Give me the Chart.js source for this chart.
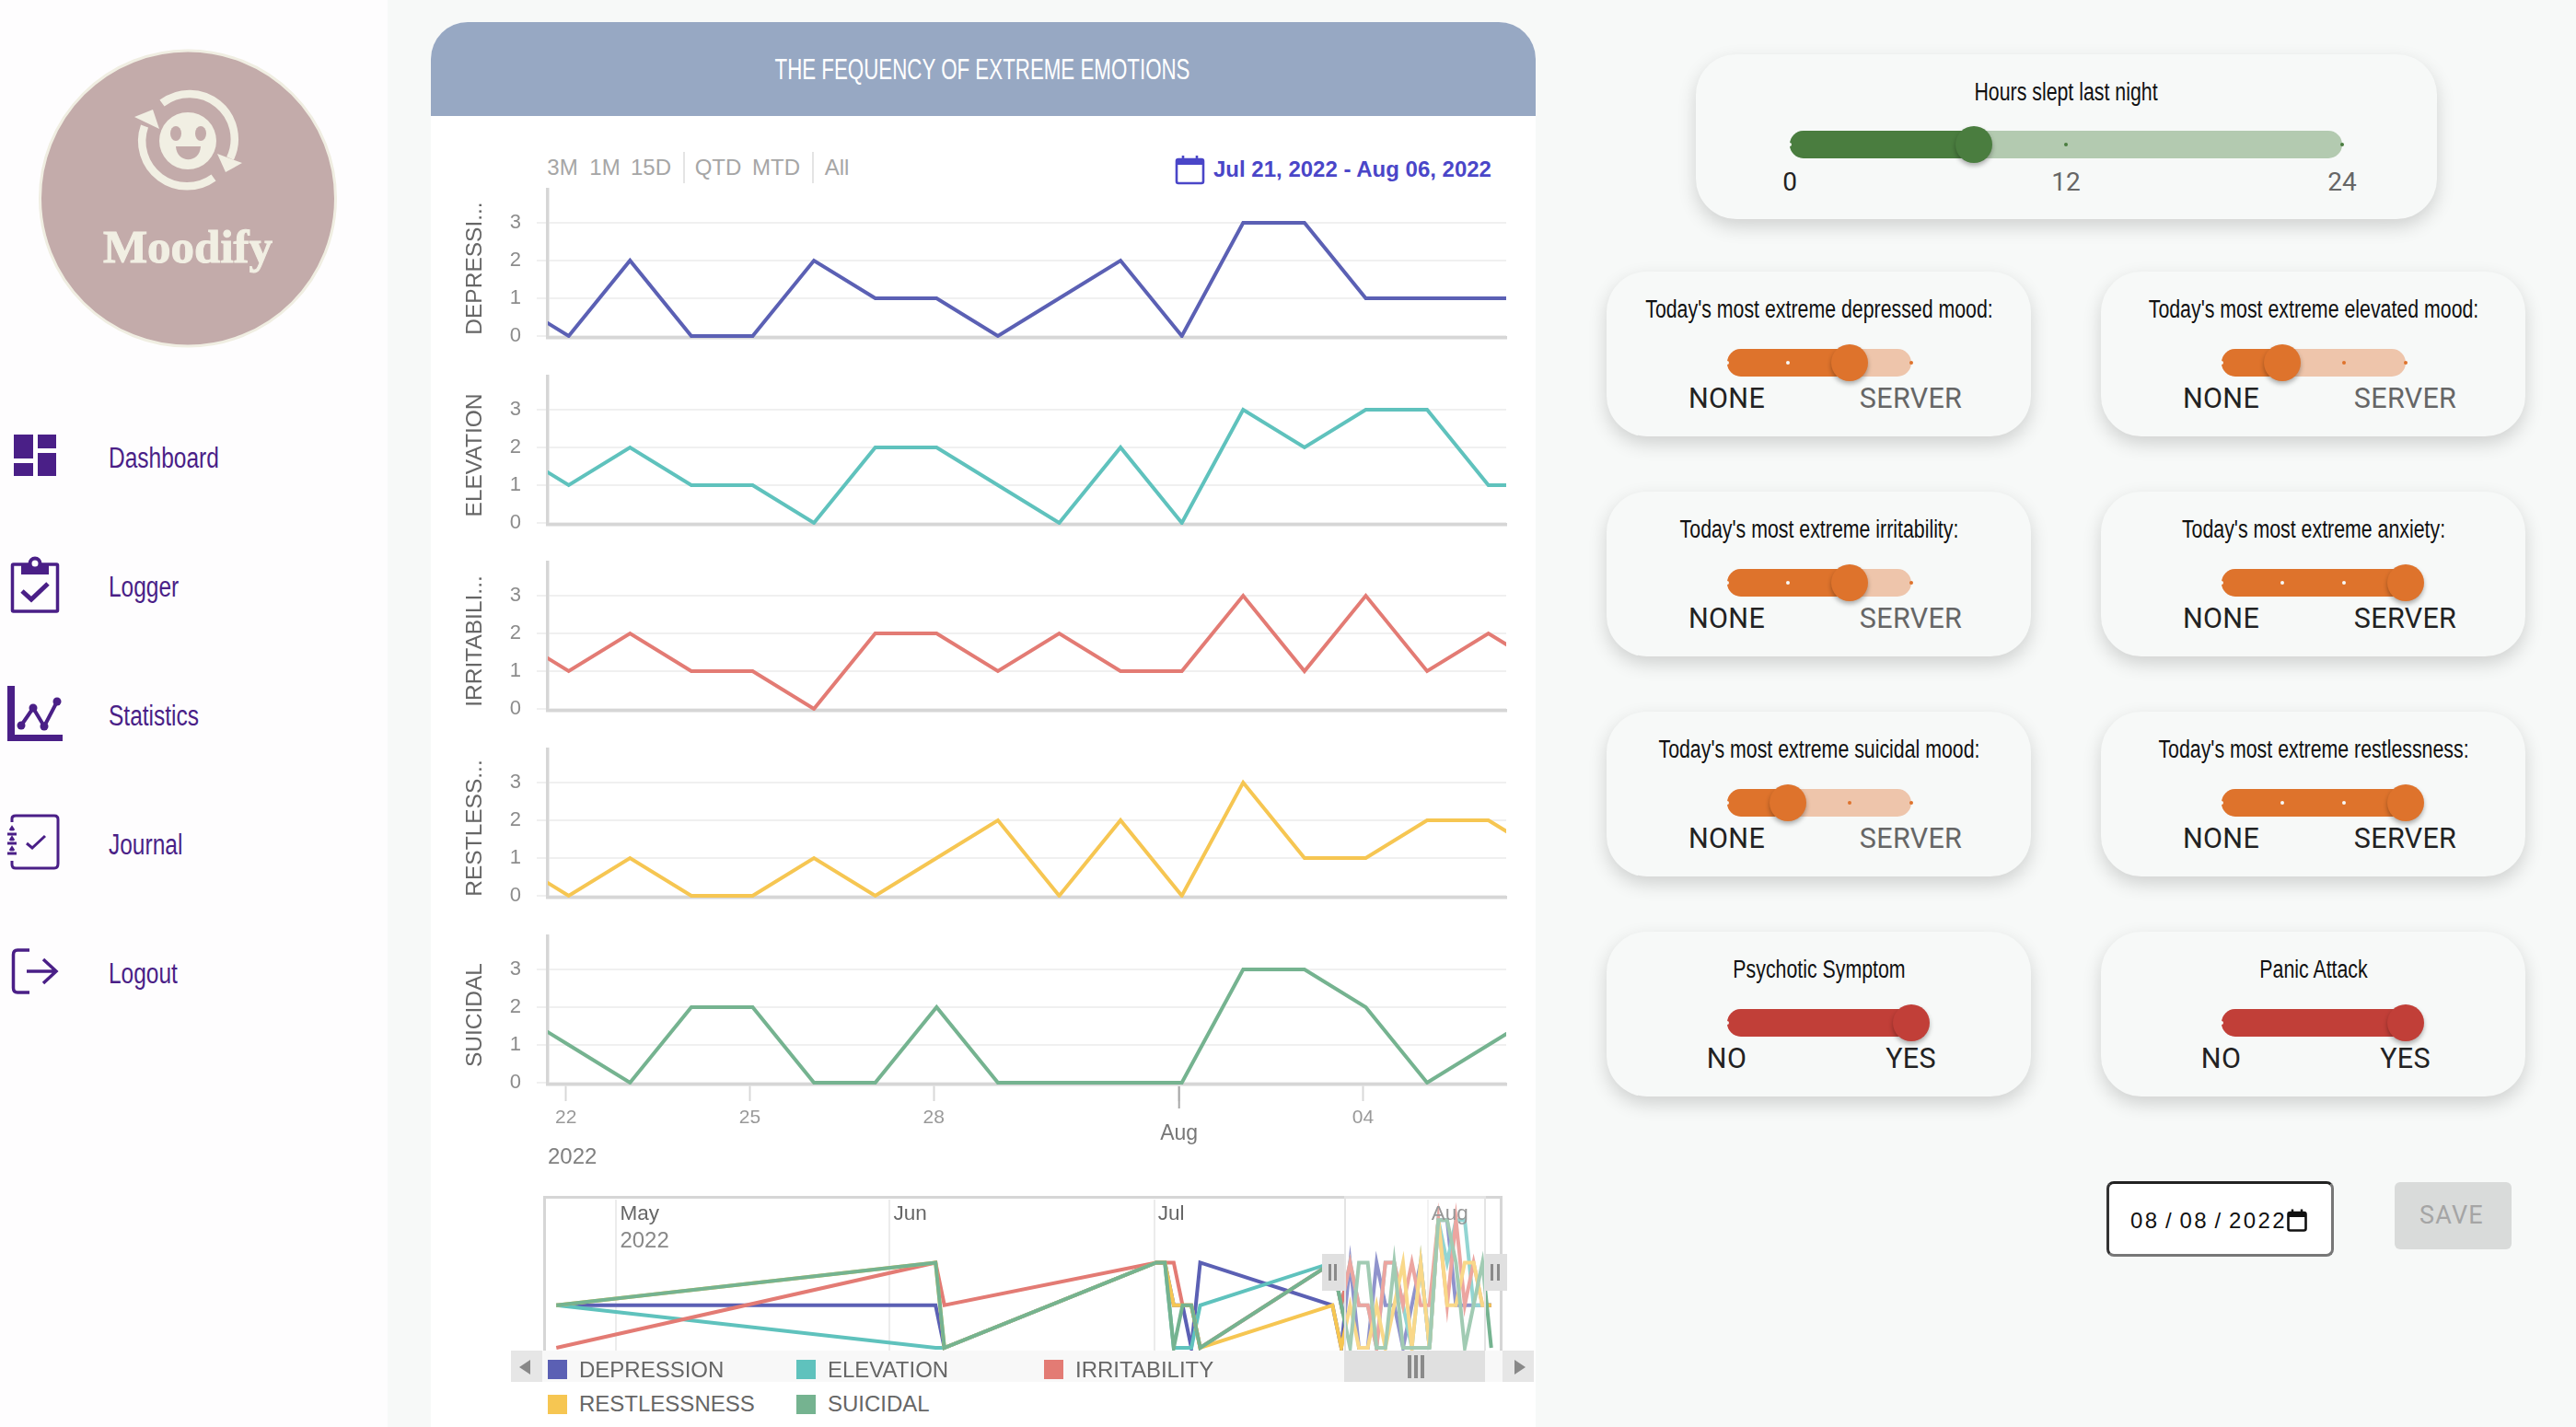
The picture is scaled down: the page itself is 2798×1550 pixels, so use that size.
<!DOCTYPE html>
<html><head><meta charset="utf-8">
<script src="https://cdn.jsdelivr.net/npm/chart.js@4"></script>
<style>
html,body{margin:0;padding:0;width:2798px;height:1550px;overflow:hidden;background:#f7f9f8;font-family:"Liberation Sans",sans-serif}
.a{position:absolute}
.t{position:absolute;white-space:nowrap;transform:translate(-50%,-50%)}
.nar{transform:translate(-50%,-50%) scaleX(.79)}
.card{position:absolute;background:#f7f9f8;border-radius:44px;box-shadow:0 8px 20px rgba(0,0,0,.16)}
.menu{position:absolute;left:118px;color:#4a1f87;font-size:31px;transform:translateY(-50%) scaleX(.79);transform-origin:left center;white-space:nowrap}
canvas{position:absolute;display:block}
</style></head><body>
<div class="a" style="left:0;top:0;width:421px;height:1550px;background:#fefdfe"></div>
<svg class="a" style="left:0;top:0" width="421" height="1550" viewBox="0 0 421 1550">
<circle cx="204" cy="215.5" r="160.5" fill="#c3abaa" stroke="#f0eee2" stroke-width="3"/>
<g fill="none" stroke="#f1efe3" stroke-width="8.5">
<path d="M176 112 A49 49 0 0 1 250 172"/><path d="M232 193 A49 49 0 0 1 157 137"/></g>
<g fill="#f1efe3"><path d="M263 177L245 187L236 167Z"/><path d="M146 127L166 119L173 140Z"/><circle cx="204" cy="153" r="31"/></g>
<g fill="#c3abaa"><ellipse cx="191" cy="145" rx="6" ry="8"/><ellipse cx="218" cy="145" rx="6" ry="8"/><path d="M191 159H218C217 178 192 178 191 159Z"/></g>
<text x="204" y="285" text-anchor="middle" font-family="Liberation Serif" font-weight="700" font-size="51" fill="#f1efe3" stroke="#f1efe3" stroke-width="1">Moodify</text>
<g fill="#4a1f87"><rect x="15" y="472" width="21" height="26"/><rect x="15" y="503" width="21" height="14"/><rect x="41" y="472" width="20" height="15"/><rect x="41" y="492" width="20" height="25"/></g>
<g fill="none" stroke="#4a1f87" stroke-width="3.5"><rect x="13.5" y="613" width="49" height="51" rx="1"/></g>
<path d="M23 614H53V624H23Z" fill="#4a1f87"/><circle cx="38" cy="612" r="5.5" fill="#fefdfe" stroke="#4a1f87" stroke-width="4"/>
<path d="M24 642L34 651L52 634" fill="none" stroke="#4a1f87" stroke-width="5"/>
<g fill="#4a1f87"><rect x="8" y="745" width="8" height="60"/><rect x="8" y="798" width="60" height="7"/><circle cx="23" cy="788" r="4.5"/><circle cx="36" cy="769" r="4.5"/><circle cx="48" cy="789" r="4.5"/><circle cx="62" cy="762" r="4.5"/></g>
<path d="M23 788L36 769L48 789L62 762" fill="none" stroke="#4a1f87" stroke-width="4"/>
<path d="M13 893V889Q13 886 17 886H59Q63 886 63 890V938Q63 943 59 943H17Q13 943 13 939V935" fill="none" stroke="#4a1f87" stroke-width="3"/>
<path d="M8 906H18M8 916H18M8 927H18M11 902L13 899L15 902M11 913L13 910L15 913M11 924L13 921L15 924" fill="none" stroke="#4a1f87" stroke-width="3"/>
<path d="M29 916L35 921L49 908" fill="none" stroke="#4a1f87" stroke-width="3"/>
<path d="M32 1032H19Q14.5 1032 14.5 1037V1073Q14.5 1078 19 1078H32" fill="none" stroke="#4a1f87" stroke-width="3.5"/>
<path d="M29 1055H61M47 1042L61 1055L47 1068" fill="none" stroke="#4a1f87" stroke-width="3.5"/>
</svg>
<div class="menu" style="top:498px">Dashboard</div>
<div class="menu" style="top:638px">Logger</div>
<div class="menu" style="top:778px">Statistics</div>
<div class="menu" style="top:918px">Journal</div>
<div class="menu" style="top:1058px">Logout</div>

<div class="a" style="left:468px;top:24px;width:1200px;height:1526px;background:#fff;border-radius:40px 40px 0 0;overflow:hidden">
<div class="a" style="left:0;top:0;width:1200px;height:102px;background:#97a8c3"></div></div>
<div class="t" style="left:1067px;top:76px;color:#fff;font-size:31px;transform:translate(-50%,-50%) scaleX(.72)" id="ttl">THE FEQUENCY OF EXTREME EMOTIONS</div>
<div id="rng"></div>
<svg class="a" style="left:1276px;top:168px" width="33" height="33" viewBox="0 0 33 33"><rect x="2" y="5" width="29" height="26" rx="2" fill="none" stroke="#4a46c8" stroke-width="2.6"/><path d="M2 5H31V11H2Z" fill="#4a46c8"/><path d="M9 1V8M24 1V8" stroke="#4a46c8" stroke-width="2.6"/></svg>
<div class="t" style="left:1469px;top:184px;font-weight:700;font-size:24px;color:#4a46c8">Jul 21, 2022 - Aug 06, 2022</div>
<div id="charts"></div>
<div id="right"></div>
<script>
// ---- data (Jul 21 … Aug 7, one value per day) ----
const dayNumbers = [21,22,23,24,25,26,27,28,29,30,31,32,33,34,35,36,37,38];
const depression   = [1,0,2,0,0,2,1,1,0,1,2,0,3,3,1,1,1,1];
const elevation    = [2,1,2,1,1,0,2,2,1,0,2,0,3,2,3,3,1,1];
const irritability = [2,1,2,1,1,0,2,2,1,2,1,1,3,1,3,1,2,1];
const restlessness = [1,0,1,0,0,1,0,1,2,0,2,0,3,1,1,2,2,1];
const suicidal     = [2,1,0,2,2,0,0,2,0,0,0,0,3,3,2,0,1,2];
const seriesNames  = ['DEPRESSION','ELEVATION','IRRITABILITY','RESTLESSNESS','SUICIDAL'];
const axisTitles   = ['DEPRESSI...','ELEVATION','IRRITABILI...','RESTLESS...','SUICIDAL'];
const seriesColors = ['#5b60b4','#5fc2bd','#e37b74','#f6c652','#75b390'];
const yTickValues  = [0,1,2,3];
const xTickDays    = [22,25,28,32,35];
const xTickLabels  = ['22','25','28','Aug','04'];
// ---- navigator: days counted from May 1 ----
const navEarlyDays = [-7,36,37,61,62,63,64,65,66];
const navDepression   = [1,1,0,2,2,1,1,0,2];
const navElevation    = [1,0,0,2,2,0,0,0,1];
const navIrritability = [0,2,1,2,2,2,1,1,0];
const navRestlessness = [1,2,0,2,2,1,1,1,0];
const navSuicidal     = [1,2,0,2,2,0,1,1,0];
const navLastDay = 99;
const navLastValues = [1,1,1,1,0];
const navMonthDays = [0,31,61,92];
const navMonthLabels = ['May','Jun','Jul','Aug'];
const navYearLabel = '2022';
// ---- logger sliders ----
const stepCards = ["Today's most extreme depressed mood:","Today's most extreme elevated mood:","Today's most extreme irritability:","Today's most extreme anxiety:","Today's most extreme suicidal mood:","Today's most extreme restlessness:"];
const stepValues = [2,1,2,3,1,3];
const yesNoCards = ['Psychotic Symptom','Panic Attack'];
const hoursSlept = 8;

const mainSeries=[depression,elevation,irritability,restlessness,suicidal];
const navSeries=[navDepression,navElevation,navIrritability,navRestlessness,navSuicidal];
const FONT='"Liberation Sans"';
const holder=document.getElementById('charts');
function mk(x,y,w,h){const c=document.createElement('canvas');c.width=w;c.height=h;c.style.left=x+'px';c.style.top=y+'px';c.style.width=w+'px';c.style.height=h+'px';holder.appendChild(c);return c;}
const TICK_SHIFT=0.045;
const zeroRows=[365.4,567.6,770.2,972.8,1175.6];
zeroRows.forEach((y0,i)=>{
  const last=i===4, top=y0-159, pad=16, plotH=161, xH=last?100:16;
  const c=mk(470,Math.round(top-pad),1190,pad+plotH+xH);
  const extras={id:'extras',afterDraw(ch){const g=ch.ctx;g.save();
    g.translate(46.7,(ch.chartArea.top+ch.chartArea.bottom)/2+5);g.rotate(-Math.PI/2);
    g.font='24.5px '+FONT;g.fillStyle='#666';g.textAlign='center';g.textBaseline='middle';g.fillText(axisTitles[i],0,0);g.restore();
    if(last){const p=ch.scales.x.getPixelForValue(32-TICK_SHIFT);g.save();g.strokeStyle='#a8a8a8';g.lineWidth=2;g.beginPath();g.moveTo(p,ch.chartArea.bottom+2);g.lineTo(p,ch.chartArea.bottom+26);g.stroke();g.restore();}}};
  new Chart(c,{type:'line',
    data:{datasets:[{data:dayNumbers.map((d,k)=>({x:d,y:mainSeries[i][k]})),borderColor:seriesColors[i],borderWidth:4,pointRadius:0,tension:0,fill:false,clip:0,borderJoinStyle:'miter'}]},
    plugins:[extras],
    options:{responsive:false,animation:false,devicePixelRatio:1,parsing:false,
      layout:{padding:{top:pad,right:24,left:0,bottom:0}},
      plugins:{legend:{display:false},tooltip:{enabled:false}},
      scales:{
        x:{type:'linear',min:21.659,max:37.29,
          afterBuildTicks:s=>{s.ticks=xTickDays.map(v=>({value:v-TICK_SHIFT}))},
          afterFit:s=>{s.height=xH;s.paddingLeft=0;s.paddingRight=0;},
          border:{display:true,color:'#d6d6d6',width:3.5},
          grid:{display:last,drawOnChartArea:false,drawTicks:last,tickLength:18,tickWidth:2,tickColor:'#d8d8d8'},
          ticks:{display:last,autoSkip:false,maxRotation:0,padding:6,color:c=>xTickLabels[c.index]==='Aug'?'#777':'#999',
            font:c=>xTickLabels[c.index]==='Aug'?{family:FONT,size:23,lineHeight:.85}:{family:FONT,size:21},
            callback:(v,k)=>xTickLabels[k]==='Aug'?['','Aug']:xTickLabels[k]},
          title:{display:last,text:navYearLabel,align:'start',color:'#808080',font:{family:FONT,size:24},padding:{top:0,bottom:6}}},
        y:{min:-0.05,max:3.88,
          afterBuildTicks:s=>{s.ticks=yTickValues.map(v=>({value:v}))},
          afterFit:s=>{s.width=125;s.paddingTop=0;s.paddingBottom=0;},
          border:{display:true,color:'#d6d6d6',width:3.5},
          grid:{color:'#f0f0f0',lineWidth:2,tickLength:12,tickColor:'#f0f0f0',drawTicks:true},
          ticks:{color:'#8c8c8c',padding:17,font:{family:FONT,size:22}}}
      }}});
});

// navigator
const navDays=navEarlyDays.concat(dayNumbers.map(d=>d+60),[navLastDay]);
const NAV_SHIFT=0.2;
const navDs=navSeries.map((arr,i)=>({data:navDays.map((d,k)=>({x:d,y:arr.concat(mainSeries[i],[navLastValues[i]])[k]})),borderColor:seriesColors[i],borderWidth:4,pointRadius:0,tension:0,order:4-i,clip:0}));
const navLabels={id:'navLabels',afterDraw(ch){const s=ch.scales.x,g=ch.ctx;g.save();g.textBaseline='middle';g.textAlign='left';
  navMonthDays.forEach((d,i)=>{const p=s.getPixelForValue(d-NAV_SHIFT);g.font='22.5px '+FONT;g.fillStyle='#666';g.fillText(navMonthLabels[i],p+4,16);
    if(i===0){g.font='24px '+FONT;g.fillStyle='#888';g.fillText(navYearLabel,p+4,45);}});g.restore();}};
new Chart(mk(592,1303,1038,164),{type:'line',data:{datasets:navDs},plugins:[navLabels],
  options:{responsive:false,animation:false,devicePixelRatio:1,parsing:false,layout:{padding:0},
    plugins:{legend:{display:false},tooltip:{enabled:false}},
    scales:{x:{type:'linear',min:-8.28,max:100.07,
        afterBuildTicks:s=>{s.ticks=navMonthDays.map(v=>({value:v-NAV_SHIFT}))},
        afterFit:s=>{s.height=0},
        border:{display:false},grid:{color:'#ececec',lineWidth:2,drawTicks:false},ticks:{display:false}},
      y:{display:false,min:-0.065,max:3.48}}}});

// chrome around the charts
function el(parent,css,html,cls){const d=document.createElement('div');d.className=cls||'a';d.style.cssText=css;if(html!=null)d.innerHTML=html;parent.appendChild(d);return d;}
const rng=document.getElementById('rng');
[['3M',611],['1M',657],['15D',707],['QTD',780],['MTD',843],['All',909]].forEach(r=>el(rng,`left:${r[1]}px;top:182px;font-size:24px;color:#a6a6a6`,r[0],'t'));
[742,882].forEach(x=>el(rng,`left:${x}px;top:165px;width:2px;height:34px;background:#e4e4e4`));
// frame
el(holder,'left:590px;top:1299px;width:1036px;height:168px;border:3px solid #d6d6d6;border-bottom:none;pointer-events:none');
// selection + handles
el(holder,'left:1460px;top:1299px;width:150px;height:168px;background:rgba(255,255,255,.32);border:2.5px solid #e4e4e4;border-bottom:none');
[[1436,1443,1449],[1613,1619,1626]].forEach(h=>{el(holder,`left:${h[0]}px;top:1362px;width:24px;height:40px;background:#e0e0e0`);
  h.slice(1).forEach(x=>el(holder,`left:${x}px;top:1373px;width:3px;height:18px;background:#8a8a8a`));});
// scrollbar
el(holder,'left:555px;top:1467px;width:1111px;height:34px;background:#f8f8f8');
el(holder,'left:555px;top:1467px;width:34px;height:34px;background:#e6e6e6');
el(holder,'left:1632px;top:1467px;width:34px;height:34px;background:#e6e6e6');
el(holder,'left:1460px;top:1467px;width:153px;height:34px;background:#e0e0e0');
[1529,1536,1543].forEach(x=>el(holder,`left:${x}px;top:1472px;width:4px;height:25px;background:#8a8a8a`));
el(holder,'left:564px;top:1477px;width:0;height:0;border-top:8px solid transparent;border-bottom:8px solid transparent;border-right:12px solid #888');
el(holder,'left:1645px;top:1477px;width:0;height:0;border-top:8px solid transparent;border-bottom:8px solid transparent;border-left:12px solid #888');
// legend
const legendPos=[[595,1487.5],[865,1487.5],[1134,1487.5],[595,1525],[865,1525]];
seriesNames.forEach((n,i)=>{const [x,y]=legendPos[i];
  el(holder,`left:${x}px;top:${y-10.5}px;width:21px;height:21px;background:${seriesColors[i]}`);
  el(holder,`left:${x+34}px;top:${y}px;transform:translateY(-50%);font-size:24px;color:#666;white-space:nowrap`,n);});

// right-hand panel
const R=document.getElementById('right');
function slider(cx,y,w,frac,col,light,marks){
  const left=cx-w/2;
  el(R,`left:${left}px;top:${y}px;width:${w}px;height:30px;border-radius:15px;background:${light}`);
  el(R,`left:${left}px;top:${y}px;width:${w*frac}px;height:30px;border-radius:15px 0 0 15px;background:${col}`);
  marks.forEach(m=>el(R,`left:${left+w*m-2}px;top:${y+13}px;width:4px;height:4px;border-radius:50%;background:${m<=frac?'#f7f9f8':col}`));
  el(R,`left:${left+w*frac-20}px;top:${y-5}px;width:40px;height:40px;border-radius:50%;background:${col};box-shadow:0 3px 5px rgba(0,0,0,.3)`);
}
function label(x,y,txt,active){el(R,`left:${x}px;top:${y}px;font-family:Roboto;font-size:30.5px;letter-spacing:.3px;color:${active?'#222':'#666'}`,txt,'t');}
// hours
el(R,'left:1842px;top:59px;width:805px;height:179px','','card');
el(R,'left:2244px;top:100px;font-size:27px;color:#111','Hours slept last night','t nar');
slider(2244,142,600,hoursSlept/24,'#4a7d3f','#b3cab0',[0,.5,1]);
el(R,'left:1944px;top:197px;font-family:Roboto;font-size:28px;color:#222','0','t');
el(R,'left:2244px;top:197px;font-family:Roboto;font-size:28px;color:#666','12','t');
el(R,'left:2544px;top:197px;font-family:Roboto;font-size:28px;color:#666','24','t');
const cols=[[1745,1975.5],[2282,2512.5]], rows=[295,534,773];
stepCards.forEach((t,i)=>{const c=cols[i%2],y=rows[Math.floor(i/2)],f=stepValues[i]/3;
  el(R,`left:${c[0]}px;top:${y}px;width:461px;height:179px`,'','card');
  el(R,`left:${c[1]}px;top:${y+41}px;font-size:27px;color:#111`,t,'t nar');
  slider(c[1],y+84,200,f,'#de732c','#eec5ab',[0,1/3,2/3,1]);
  label(c[1]-100,y+137,'NONE',true);label(c[1]+100,y+137,'SERVER',f===1);
});
yesNoCards.forEach((t,i)=>{const c=cols[i],yy=1012;
  el(R,`left:${c[0]}px;top:${yy}px;width:461px;height:179px`,'','card');
  el(R,`left:${c[1]}px;top:${yy+41}px;font-size:27px;color:#111`,t,'t nar');
  slider(c[1],yy+84,200,1,'#c13f38','#e6b2af',[0]);
  label(c[1]-100,yy+137,'NO',true);label(c[1]+100,yy+137,'YES',true);
});
// date + save
el(R,'left:2288px;top:1283px;width:241px;height:76px;background:#fff;border:3.5px solid;border-color:#222 #777 #777 #333;border-radius:8px');
el(R,'left:2314px;top:1326px;transform:translateY(-50%);font-size:24px;color:#111;letter-spacing:2.4px;word-spacing:-2.6px;white-space:nowrap','08 / 08 / 2022');
R.insertAdjacentHTML('beforeend','<svg class="a" style="left:2484px;top:1313px" width="22" height="25" viewBox="0 0 22 25"><rect x="1.5" y="4" width="19" height="19.5" rx="2" fill="none" stroke="#111" stroke-width="2.6"/><path d="M1.5 4H20.5V9H1.5Z" fill="#111"/><path d="M6 .5V5M16 .5V5" stroke="#111" stroke-width="2.4"/></svg>');
el(R,'left:2601px;top:1284px;width:127px;height:73px;background:#d9dbda;border-radius:6px');
el(R,'left:2663px;top:1320px;font-family:Roboto;font-size:27px;letter-spacing:1.2px;color:#a5a5a5','SAVE','t');
</script>
</body></html>
